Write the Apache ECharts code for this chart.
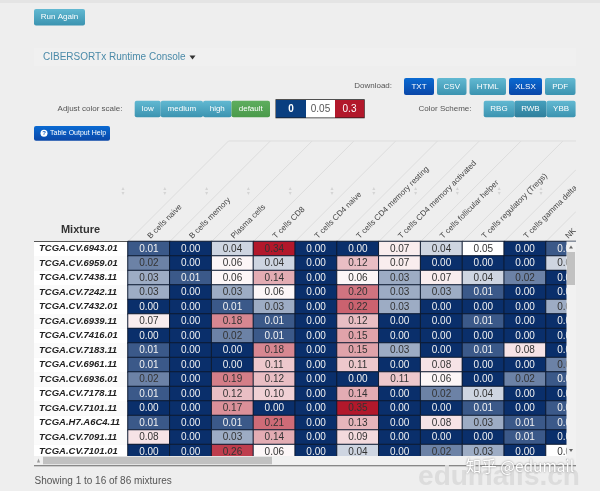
<!DOCTYPE html>
<html>
<head>
<meta charset="utf-8">
<title>CIBERSORTx results</title>
<script src="https://cdn.jsdelivr.net/npm/echarts@6/dist/echarts.min.js"></script>
<style>
  html, body { margin: 0; padding: 0; background: #eeeeee; }
  #chart { width: 600px; height: 491px; }
</style>
</head>
<body>
<div id="chart"></div>
<script>
// -----------------------------------------------------------------------------
// Data
// -----------------------------------------------------------------------------
const cellTypes = [
  "B cells naive", "B cells memory", "Plasma cells", "T cells CD8", "T cells CD4 naive",
  "T cells CD4 memory resting", "T cells CD4 memory activated", "T cells follicular helper",
  "T cells regulatory (Tregs)", "T cells gamma delta", "NK cells resting"
];
const mixtures = [
  "TCGA.CV.6943.01", "TCGA.CV.6959.01", "TCGA.CV.7438.11", "TCGA.CV.7242.11", "TCGA.CV.7432.01",
  "TCGA.CV.6939.11", "TCGA.CV.7416.01", "TCGA.CV.7183.11", "TCGA.CV.6961.11", "TCGA.CV.6936.01",
  "TCGA.CV.7178.11", "TCGA.CV.7101.11", "TCGA.H7.A6C4.11", "TCGA.CV.7091.11", "TCGA.CV.7101.01"
];
const fractions = [
  [0.01, 0.00, 0.04, 0.34, 0.00, 0.00, 0.07, 0.04, 0.05, 0.00, 0.01],
  [0.02, 0.00, 0.06, 0.04, 0.00, 0.12, 0.07, 0.00, 0.00, 0.00, 0.04],
  [0.03, 0.01, 0.06, 0.14, 0.00, 0.06, 0.03, 0.07, 0.04, 0.02, 0.00],
  [0.03, 0.00, 0.03, 0.06, 0.00, 0.20, 0.03, 0.03, 0.01, 0.00, 0.00],
  [0.00, 0.00, 0.01, 0.03, 0.00, 0.22, 0.03, 0.00, 0.00, 0.00, 0.03],
  [0.07, 0.00, 0.18, 0.01, 0.00, 0.12, 0.00, 0.00, 0.01, 0.00, 0.00],
  [0.00, 0.00, 0.02, 0.01, 0.00, 0.15, 0.00, 0.00, 0.00, 0.00, 0.00],
  [0.01, 0.00, 0.00, 0.18, 0.00, 0.15, 0.03, 0.00, 0.01, 0.08, 0.00],
  [0.01, 0.00, 0.00, 0.11, 0.00, 0.11, 0.00, 0.08, 0.00, 0.00, 0.02],
  [0.02, 0.00, 0.19, 0.12, 0.00, 0.00, 0.11, 0.06, 0.00, 0.02, 0.01],
  [0.01, 0.00, 0.12, 0.10, 0.00, 0.14, 0.00, 0.02, 0.04, 0.00, 0.00],
  [0.00, 0.00, 0.17, 0.00, 0.00, 0.35, 0.00, 0.00, 0.01, 0.00, 0.01],
  [0.01, 0.00, 0.01, 0.21, 0.00, 0.13, 0.00, 0.08, 0.03, 0.01, 0.01],
  [0.08, 0.00, 0.03, 0.14, 0.00, 0.09, 0.00, 0.00, 0.00, 0.01, 0.00],
  [0.00, 0.00, 0.26, 0.06, 0.00, 0.04, 0.00, 0.02, 0.03, 0.00, 0.05]
];

// -----------------------------------------------------------------------------
// Colour scale: navy at 0, white at 0.05, red at 0.3
// -----------------------------------------------------------------------------
const NAVY = [10, 47, 107];
const WHITE = [255, 255, 255];
const RED = [178, 24, 43];

function mix(a, b, t) {
  const c = a.map((v, i) => Math.round(v + (b[i] - v) * Math.min(1, t)));
  return `rgb(${c.join(",")})`;
}

function cellColor(v) {
  return v <= 0.05 ? mix(NAVY, WHITE, v / 0.05) : mix(WHITE, RED, (v - 0.05) / 0.25);
}

// -----------------------------------------------------------------------------
// Page furniture, drawn as graphic elements around the heatmap
// -----------------------------------------------------------------------------
const FONT = '"Liberation Sans", Arial, sans-serif';
const BG = "#eeeeee";
const TEAL = ["#62b9d2", "#3b93b0"];
const BLUE = ["#0a6ad2", "#0a47a8"];
const GREEN = ["#5fae5f", "#4a9a4a"];
const STEEL = ["#46a0bd", "#2f7f9c"];

function box(x, y, w, h, fill, z = 50, extra = {}) {
  return { type: "rect", z, shape: { x, y, width: w, height: h, ...extra }, style: { fill }, silent: true };
}

function grad(c) {
  return { type: "linear", x: 0, y: 0, x2: 0, y2: 1, colorStops: [{ offset: 0, color: c[0] }, { offset: 1, color: c[1] }] };
}

function text(x, y, str, size, fill, opts = {}) {
  return {
    type: "text", z: opts.z || 60, x, y, silent: true,
    style: {
      text: str, fill, fontFamily: opts.family || FONT, fontSize: size, fontWeight: opts.weight || "normal",
      align: opts.align || "center", verticalAlign: "middle", opacity: opts.opacity == null ? 1 : opts.opacity,
      textShadowColor: opts.shadow, textShadowBlur: opts.shadow ? 2 : 0
    }
  };
}

function button(x0, x1, y0, y1, label, colors, size = 8) {
  return [
    box(x0, y0, x1 - x0, y1 - y0, grad(colors), 50, { r: 2 }),
    text((x0 + x1) / 2, (y0 + y1) / 2, label, size, "#ffffff")
  ];
}

function triangle(cx, cy, w, h, up, fill) {
  const tip = up ? cy - h / 2 : cy + h / 2;
  const base = up ? cy + h / 2 : cy - h / 2;
  return {
    type: "polygon", z: 60, silent: true,
    shape: { points: [[cx, tip], [cx - w / 2, base], [cx + w / 2, base]] },
    style: { fill }
  };
}

function headerDecor() {
  const els = [];
  const colStep = 41.8;
  // diagonal rules of the rotated table header
  for (let i = 0; i < 11; i += 1) {
    const topX = 228.5 + i * colStep;
    const bottomX = topX - 100;
    let x2 = topX, y2 = 141;
    if (x2 > 576) { y2 = 141 + (x2 - 576); x2 = 576; }
    els.push({
      type: "line", z: 1, silent: true,
      shape: { x1: bottomX, y1: 241, x2, y2 },
      style: { stroke: "#dddddd", lineWidth: 1 }
    });
  }
  els.push({ type: "line", z: 1, silent: true, shape: { x1: 228.5, y1: 141, x2: 576, y2: 141 }, style: { stroke: "#dddddd", lineWidth: 1 } });
  // sort arrows
  for (let i = 0; i < 11; i += 1) {
    const cx = 123 + i * colStep;
    els.push(triangle(cx, 188.5, 3, 3, true, "#d4d4d4"));
    els.push(triangle(cx, 193.5, 3, 3, false, "#d4d4d4"));
  }
  return els;
}

function pageDecor() {
  return [
    box(0, 0, 600, 3, "#e4e4e4", 1),
    ...button(34, 85, 9, 25.5, "Run Again", TEAL),

    // console panel
    box(34, 48, 542, 18, "#f0f0f0", 1),
    text(43, 57, "CIBERSORTx Runtime Console", 10, "#4a8aa8", { align: "left" }),
    triangle(192.5, 57.5, 6, 4, false, "#333333"),

    // download row
    text(392, 86, "Download:", 8, "#555555", { align: "right" }),
    ...button(404, 434, 78, 95, "TXT", BLUE),
    ...button(437, 466.5, 78, 95, "CSV", TEAL),
    ...button(469.5, 506, 78, 95, "HTML", TEAL),
    ...button(509, 542, 78, 95, "XLSX", BLUE),
    ...button(545, 575.5, 78, 95, "PDF", TEAL),

    // colour scale row
    text(122.5, 108.5, "Adjust color scale:", 8, "#555555", { align: "right" }),
    ...button(134.7, 160.7, 100.7, 117.3, "low", TEAL),
    ...button(160.7, 203, 100.7, 117.3, "medium", TEAL),
    ...button(203, 231.5, 100.7, 117.3, "high", TEAL),
    ...button(231.5, 270, 100.7, 117.3, "default", GREEN),
    box(275.5, 99.3, 89.2, 19, "#1a1a1a"),
    box(276, 100, 30, 17.5, "#0a3f80", 51),
    box(306, 100, 29, 17.5, "#ffffff", 51),
    box(335, 100, 29.2, 17.5, "#b2182b", 51),
    text(291, 109, "0", 10, "#ffffff", { weight: "bold" }),
    text(320.5, 109, "0.05", 10, "#555555"),
    text(349.5, 109, "0.3", 10, "#ffffff"),
    text(471.5, 108.5, "Color Scheme:", 8, "#555555", { align: "right" }),
    ...button(483.7, 514.3, 100.7, 117.3, "RBG", TEAL),
    ...button(514.3, 546.5, 100.7, 117.3, "RWB", STEEL),
    ...button(546.5, 575.6, 100.7, 117.3, "YBB", TEAL),

    // help button
    box(34, 126, 76, 14.7, grad(BLUE), 50, { r: 2 }),
    { type: "circle", z: 60, silent: true, shape: { cx: 44, cy: 133.3, r: 3.5 }, style: { fill: "#ffffff" } },
    text(44, 133.5, "?", 6, "#0a5ac0", { weight: "bold", z: 61 }),
    text(50, 133.5, "Table Output Help", 7, "#ffffff", { align: "left" }),

    // table head and row stripes
    text(80.5, 230, "Mixture", 11, "#333333", { weight: "bold" }),
    ...mixtures.map((m, i) => box(34, 241.5 + i * 14.5, 94, 14.5, i % 2 ? "#fbfbfb" : "#ffffff", 1)),
    box(34, 241, 94, 1, "#555555", 2),

    // covers: the table is cut by its scroll area
    box(576, 130, 24, 330, BG, 40),
    box(566.5, 241.5, 9.5, 224, "#f1f1f1", 41),
    box(567, 252, 8, 33, "#c1c1c1", 42),
    triangle(571, 247, 4, 3, true, "#666666"),
    triangle(571, 450.5, 4, 3, false, "#666666"),
    box(34, 456, 532.5, 9, "#f1f1f1", 41),
    box(43, 456.8, 229, 7.4, "#c1c1c1", 42),
    triangle(38.5, 460.5, 3, 4, true, "#999999"),
    box(34, 465.2, 542, 1, "#666666", 43),
    box(0, 466, 600, 25, BG, 40),

    text(34.5, 481.5, "Showing 1 to 16 of 86 mixtures", 10, "#555555", { align: "left" }),

    // watermarks of the source image
    text(499, 477, "edumails.cn", 28, "#dcdcdc", { weight: "bold", z: 44 }),
    text(520, 466, "知乎 @edumail", 15.5, "#ffffff", { family: '"Noto Sans CJK SC"', z: 62, shadow: "#777777" })
  ];
}

// -----------------------------------------------------------------------------
// Heatmap
// -----------------------------------------------------------------------------
const cells = [];
fractions.forEach((row, y) => {
  row.forEach((v, x) => {
    cells.push({
      value: [x, y, v],
      itemStyle: { color: cellColor(v) },
      label: { color: v <= 0.01 ? "#f2f2f2" : "#333333" }
    });
  });
});

const chart = echarts.init(document.getElementById("chart"), null, { renderer: "canvas" });
chart.setOption({
  animation: false,
  backgroundColor: BG,
  textStyle: { fontFamily: FONT },
  grid: {
    left: 128, top: 241.5, width: 41.8 * cellTypes.length, height: 14.5 * mixtures.length,
    outerBoundsMode: "none"
  },
  xAxis: {
    type: "category",
    position: "top",
    z: 30,
    data: cellTypes,
    axisLine: { show: false },
    axisTick: { show: false },
    splitLine: { show: false },
    axisLabel: { interval: 0, rotate: -45, margin: 4, fontSize: 8, color: "#444444", fontFamily: FONT, hideOverlap: false }
  },
  yAxis: {
    type: "category",
    inverse: true,
    z: 30,
    data: mixtures,
    axisLine: { show: false },
    axisTick: { show: false },
    splitLine: { show: false },
    axisLabel: {
      interval: 0, align: "left", margin: 89, fontSize: 9.5, color: "#222222",
      fontFamily: FONT, fontWeight: "bold", fontStyle: "italic"
    }
  },
  graphic: { elements: [...headerDecor(), ...pageDecor()] },
  series: [{
    type: "heatmap",
    data: cells,
    silent: true,
    itemStyle: { borderColor: "#0d1a30", borderWidth: 1 },
    label: {
      show: true,
      fontSize: 10,
      fontFamily: FONT,
      formatter: (p) => p.value[2].toFixed(2)
    }
  }]
});
</script>
</body>
</html>
